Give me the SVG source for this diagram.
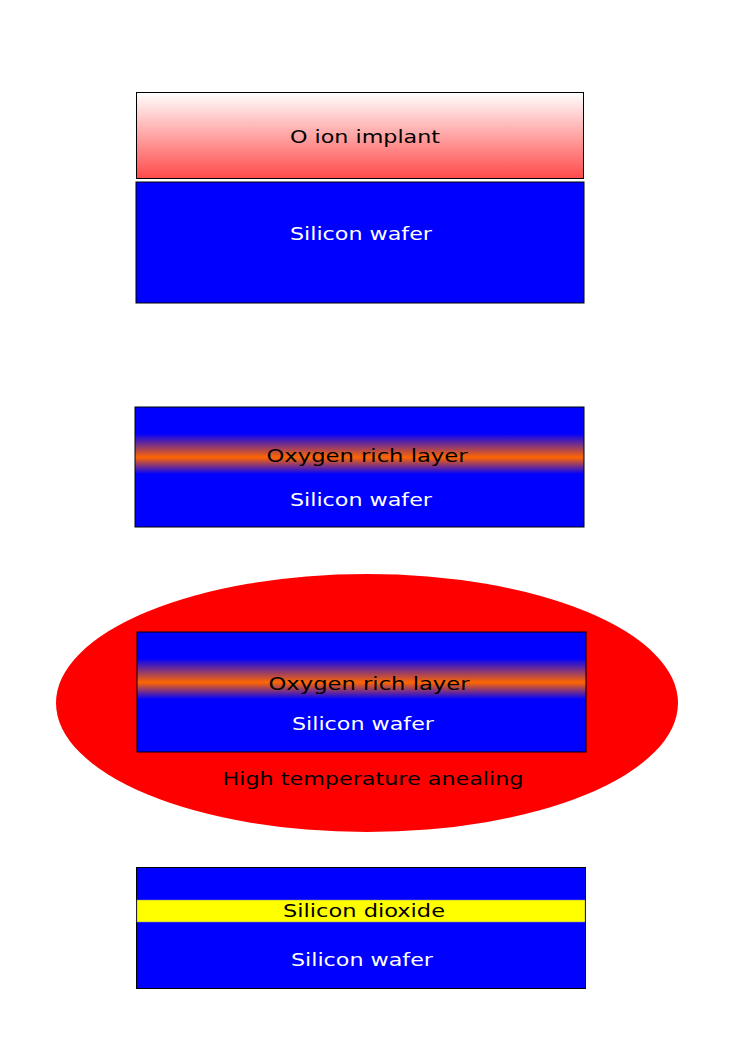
<svg xmlns="http://www.w3.org/2000/svg" width="744" height="1052" viewBox="0 0 744 1052">
<defs>
<linearGradient id="imp" x1="0" y1="0" x2="0" y2="1"><stop offset="0" stop-color="#fff"/><stop offset="1" stop-color="#ff4a4a"/></linearGradient>
<linearGradient id="oxy" x1="0" y1="0" x2="0" y2="1">
<stop offset="0.22" stop-color="#0000ff"/><stop offset="0.42" stop-color="#ff6600"/><stop offset="0.56" stop-color="#0000ff"/></linearGradient>
<style>
.t{font-family:"DejaVu Sans",sans-serif;font-size:18px;text-anchor:middle}
.w{fill:#fff}.b{fill:#000}
.box{stroke:#000;stroke-width:1}
</style>
</defs>
<g id="step1">
<rect class="box" x="136.5" y="92.5" width="447" height="86" fill="url(#imp)"/>
<text class="t b" x="365" y="143" textLength="150" lengthAdjust="spacingAndGlyphs">O ion implant</text>
<rect class="box" x="136" y="182" width="448" height="121" fill="#0000ff"/>
<text class="t w" x="361" y="240" textLength="142" lengthAdjust="spacingAndGlyphs">Silicon wafer</text>
</g>
<g id="step2">
<rect class="box" x="135" y="407" width="449" height="120" fill="url(#oxy)"/>
<text class="t b" x="367" y="462" textLength="201" lengthAdjust="spacingAndGlyphs">Oxygen rich layer</text>
<text class="t w" x="361" y="506" textLength="142" lengthAdjust="spacingAndGlyphs">Silicon wafer</text>
</g>
<g id="step3">
<ellipse cx="367" cy="703" rx="311" ry="129" fill="#ff0000"/>
<rect class="box" x="137" y="632" width="449" height="120" fill="url(#oxy)"/>
<text class="t b" x="369" y="690" textLength="201" lengthAdjust="spacingAndGlyphs">Oxygen rich layer</text>
<text class="t w" x="363" y="730" textLength="142" lengthAdjust="spacingAndGlyphs">Silicon wafer</text>
<text class="t b" x="373" y="785" textLength="301" lengthAdjust="spacingAndGlyphs">High temperature anealing</text>
</g>
<g id="step4">
<rect class="box" x="136.5" y="867.5" width="449" height="121" fill="#0000ff"/>
<rect x="137" y="900" width="448" height="22" fill="#ffff00" stroke="#8888aa" stroke-width="0.5"/>
<text class="t b" x="364" y="917" textLength="162" lengthAdjust="spacingAndGlyphs">Silicon dioxide</text>
<text class="t w" x="362" y="966" textLength="142" lengthAdjust="spacingAndGlyphs">Silicon wafer</text>
</g>
<g id="connectors"/>
</svg>
